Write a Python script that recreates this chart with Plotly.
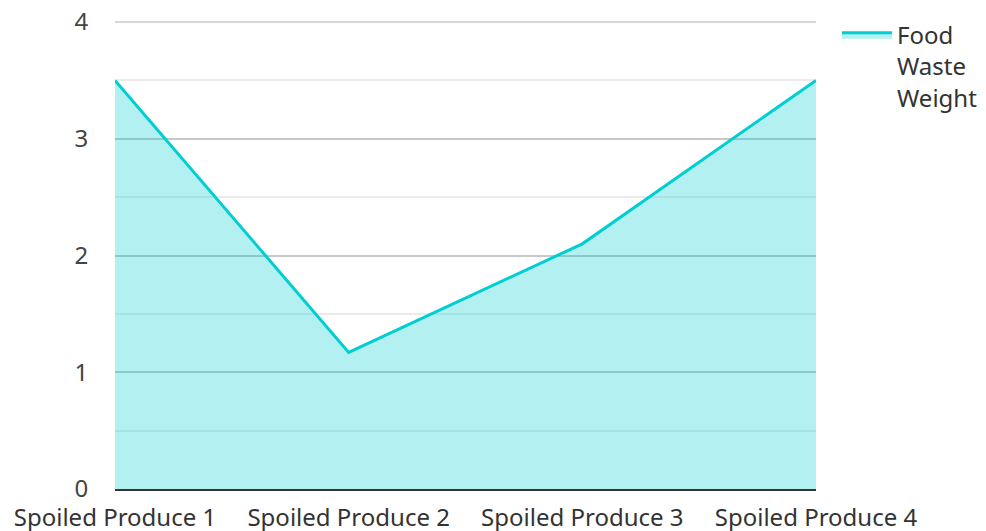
import plotly.graph_objects as go

categories = ["Spoiled Produce 1", "Spoiled Produce 2", "Spoiled Produce 3", "Spoiled Produce 4"]
weights = [3.5, 1.17, 2.1, 3.5]
series_name = "Food<br>Waste<br>Weight"
y_ticks = [0, 1, 2, 3, 4]

fig = go.Figure()
fig.add_trace(go.Scatter(
    x=categories, y=weights, name=series_name,
    mode="lines", fill="tozeroy",
    line=dict(color="#00CED1", width=3),
    fillcolor="rgba(0,206,209,0.3)",
))

# top gridline (plotly skips gridlines lying on the plot edge); paper ref avoids clipping
fig.add_shape(type="line", xref="paper", yref="paper", x0=0, x1=1,
              y0=1, y1=1,
              line=dict(color="#c8c8c8", width=1.5), layer="below")

font_family = "Noto Sans"
fig.update_layout(
    width=978, height=523,
    margin=dict(l=107, r=170, t=14, b=42, autoexpand=False),
    paper_bgcolor="white", plot_bgcolor="white",
    font=dict(family=font_family, size=24, color="#444"),
    showlegend=True,
    legend=dict(x=1.03, y=1.02, xanchor="left", yanchor="top", valign="top",
                font=dict(size=24, color="#333"), itemwidth=50,
                tracegroupgap=0),
    xaxis=dict(
        type="category", range=[0, 3], showgrid=False, automargin=False,
        showline=True, linecolor="#333", linewidth=2,
        ticks="outside", ticklen=6, tickcolor="rgba(0,0,0,0)",
        tickfont=dict(size=24, color="#333"), zeroline=False,
        ticklabeloverflow="allow",
    ),
    yaxis=dict(
        range=[y_ticks[0], y_ticks[-1]], tickvals=y_ticks, automargin=False,
        showgrid=True, gridcolor="#c8c8c8", gridwidth=1.5,
        minor=dict(dtick=0.5, showgrid=True, gridcolor="#ebebeb", gridwidth=1.5),
        zeroline=False, showline=False,
        ticks="outside", ticklen=21, tickcolor="rgba(0,0,0,0)",
        tickfont=dict(size=24, color="#444"),
        ticklabeloverflow="allow",
    ),
)

fig.write_html("out.html")
